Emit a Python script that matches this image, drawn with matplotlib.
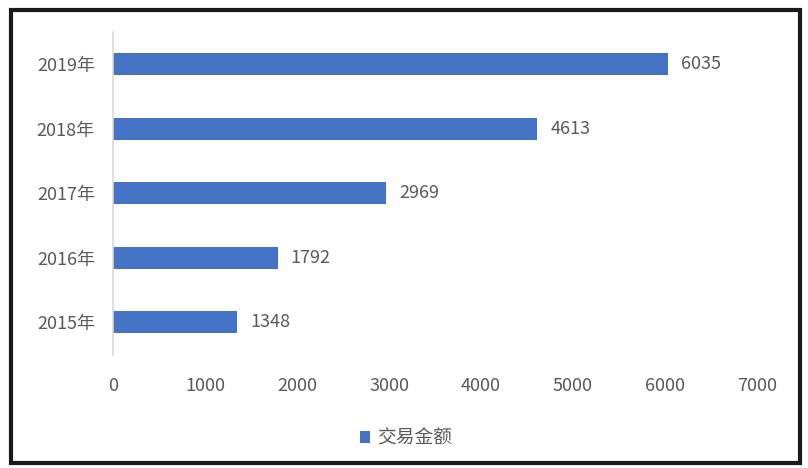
import matplotlib
matplotlib.use("Agg")
import matplotlib.pyplot as plt
from matplotlib.patches import Rectangle

years = ["2015年", "2016年", "2017年", "2018年", "2019年"]
values = [1348, 1792, 2969, 4613, 6035]
series_name = "交易金额"
xticks = [0, 1000, 2000, 3000, 4000, 5000, 6000, 7000]

plt.rcParams['font.family'] = ['Noto Sans CJK SC', 'DejaVu Sans']
txt = "#595959"
bar_color = "#4472C4"
fs = 13

fig = plt.figure(figsize=(8.08, 4.68), dpi=100)
ax = fig.add_axes([113/808, 1 - 354.5/468, (757-113)/808, (354.5-32)/468])

y = list(range(len(years)))
bars = ax.barh(y, values, height=0.34, color=bar_color, label=series_name)
for yi, v in zip(y, values):
    ax.text(v + 140, yi, str(v), va="center", ha="left", fontsize=fs, color=txt)

ax.set_xlim(0, 7000)
ax.set_ylim(-0.5, len(years) - 0.5)
ax.set_xticks(xticks)
ax.set_xticklabels([str(t) for t in xticks])
ax.set_yticks(y)
ax.set_yticklabels(years)
ax.tick_params(axis="x", length=0, pad=16, labelsize=fs, labelcolor=txt)
ax.tick_params(axis="y", length=0, pad=13, labelsize=fs, labelcolor=txt)
for s in ["top", "right", "bottom"]:
    ax.spines[s].set_visible(False)
ax.spines["left"].set_color("#D9D9D9")
ax.spines["left"].set_linewidth(1.2)

leg = fig.legend(handles=[bars], labels=[series_name], loc="center",
                 bbox_to_anchor=(406/808, 1 - 438/468), frameon=False,
                 fontsize=13.5, handlelength=0.55, handleheight=0.55,
                 handletextpad=0.4, labelcolor=txt)

fig.patches.append(Rectangle((11/808, 1 - 463/468), (800-11)/808, (463-10)/468,
                             transform=fig.transFigure, fill=False,
                             edgecolor="#1a1a1a", linewidth=3.0))

fig.savefig("out.png", dpi=100, facecolor="white")
